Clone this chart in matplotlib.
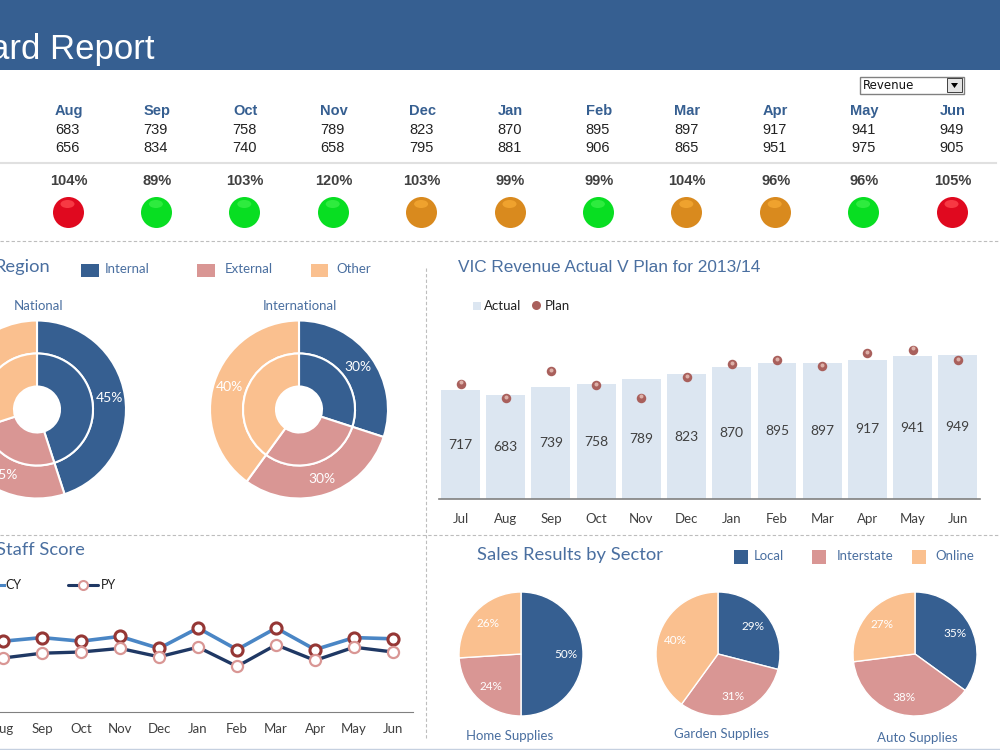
import matplotlib
matplotlib.use("Agg")
import matplotlib.pyplot as plt
from matplotlib.patches import Rectangle, Polygon, Ellipse

months = ["Aug", "Sep", "Oct", "Nov", "Dec", "Jan", "Feb", "Mar", "Apr", "May", "Jun"]
actual = [683, 739, 758, 789, 823, 870, 895, 897, 917, 941, 949]
plan = [656, 834, 740, 658, 795, 881, 906, 865, 951, 975, 905]
pct = ["104%", "89%", "103%", "120%", "103%", "99%", "99%", "104%", "96%", "96%", "105%"]
status = ["red", "green", "green", "green", "amber", "amber", "green", "amber", "amber", "green", "red"]

bar_months = ["Jul"] + months
bar_actual = [717] + actual
bar_plan = [751] + plan

national = [45, 25, 30]
international = [30, 30, 40]
home = [50, 24, 26]
garden = [29, 31, 40]
auto = [35, 38, 27]

cy = [5.9, 6.2, 5.9, 6.3, 5.3, 7.0, 5.2, 7.0, 5.2, 6.2, 6.1]
py = [4.5, 4.9, 5.0, 5.3, 4.6, 5.4, 3.8, 5.6, 4.3, 5.4, 5.0]

BLUE = "#365F91"
PINK = "#D99694"
ORANGE = "#FAC08F"
TITLE = "#4A6FA0"
GREY = "#404040"
DASH = "#BDBDBD"
pie_colors = [BLUE, PINK, ORANGE]
light_colors = {"red": "#E0091F", "green": "#08DE22", "amber": "#D98A1E"}
light_tops = {"red": "#FF4A50", "green": "#3CF048", "amber": "#F7AB34"}

plt.rcParams["font.family"] = ["Lato", "DejaVu Sans"]

fig = plt.figure(figsize=(10, 7.5), dpi=100)


def px_axes(left, top, right, bottom):
    # axes from pixel box, origin top left
    return fig.add_axes([left / 1000, 1 - bottom / 750, (right - left) / 1000, (bottom - top) / 750])


# page layer in pixels
page = fig.add_axes([0, 0, 1, 1])
page.set_xlim(0, 1000)
page.set_ylim(750, 0)
page.axis("off")

page.add_patch(Rectangle((0, 0), 1000, 70, color=BLUE, lw=0))
page.text(155, 59, "ard Report", color="white", fontsize=25, ha="right", va="baseline", family="Liberation Sans")

# dropdown
page.add_patch(Rectangle((859.5, 76.5), 104, 17, fc="white", ec="#808080", lw=1))
page.add_patch(Rectangle((947, 78), 15, 14, fc="#E4E4E4", ec="#404040", lw=0.7))
page.add_patch(Polygon([[951, 83], [958, 83], [954.5, 88]], color="black", lw=0))
page.text(863, 85.5, "Revenue", fontsize=8.5, va="center", family="DejaVu Sans", color="#111111")

# table
for i, m in enumerate(months):
    x = 68.5 + 88.4 * i
    page.text(x, 115, m, color=BLUE, fontsize=10.5, fontweight="bold", ha="center", va="baseline", family="Liberation Sans")
    page.text(x - 1, 133.5, str(actual[i]), color="#222222", fontsize=10.5, ha="center", va="baseline", family="Liberation Sans")
    page.text(x - 1, 151.5, str(plan[i]), color="#222222", fontsize=10.5, ha="center", va="baseline", family="Liberation Sans")
    page.text(x, 185, pct[i], color=GREY, fontsize=10.5, fontweight="bold", ha="center", va="baseline", family="Liberation Sans")
    page.scatter([x - 1], [212], s=(31 * 0.72) ** 2, color=light_colors[status[i]], lw=0, zorder=3)
    page.add_patch(Ellipse((x - 1, 204), 14, 8, color=light_tops[status[i]], lw=0, zorder=4, alpha=0.75))
page.plot([0, 996], [163, 163], color="#E0E0E0", lw=1.5)

# separators
page.plot([0, 1000], [240.5, 240.5], color=DASH, lw=0.8, ls=(0, (3, 2)))
page.plot([0, 1000], [534.5, 534.5], color=DASH, lw=0.8, ls=(0, (3, 2)))
page.plot([426, 426], [268, 740], color=DASH, lw=0.8, ls=(0, (3, 2)))
page.plot([0, 1000], [749, 749], color="#C5D0E0", lw=1)

# titles and legends
page.text(-6, 267, "Region", color=TITLE, fontsize=13.2, va="center")
page.text(458, 267, "VIC Revenue Actual V Plan for 2013/14", color=TITLE, fontsize=12.4, va="center", family="Liberation Sans")
page.text(-4, 550, "Staff Score", color=TITLE, fontsize=13.2, va="center")
page.text(477, 555, "Sales Results by Sector", color=TITLE, fontsize=13.2, va="center")

for x0, x1, tx, label, c in [(81, 99, 105, "Internal", BLUE), (197, 215, 225, "External", PINK), (311, 328, 336, "Other", ORANGE)]:
    page.add_patch(Rectangle((x0, 264), x1 - x0, 13, color=c, lw=0))
    page.text(tx, 269, label, color=TITLE, fontsize=9.5, va="center")
for x0, tx, label, c in [(734, 754, "Local", BLUE), (812, 837, "Interstate", PINK), (912, 935, "Online", ORANGE)]:
    page.add_patch(Rectangle((x0, 550), 14, 14, color=c, lw=0))
    page.text(tx, 556, label, color=TITLE, fontsize=9.5, va="center")

page.add_patch(Rectangle((473, 302), 8, 8, color="#DCE6F1", lw=0))
page.text(484, 306, "Actual", color="#222222", fontsize=9.5, va="center")
page.scatter([536], [305], s=(9 * 0.72) ** 2, color="#A9605C", lw=0)
page.text(545, 306, "Plan", color="#222222", fontsize=9.5, va="center")

page.plot([0, 4], [585, 585], color="#4A86C5", lw=2.2)
page.text(5, 585, "CY", color="#222222", fontsize=9, va="center")
page.plot([68, 98], [585, 585], color="#1F3864", lw=2.2, solid_capstyle="round")
page.scatter([83], [585], s=(9 * 0.72) ** 2, fc="white", ec=PINK, lw=1.5, zorder=3)
page.text(101, 585, "PY", color="#222222", fontsize=9, va="center")

for cx, y, label in [(39, 306.5, "National"), (300, 306.5, "International"), (510, 736.5, "Home Supplies"), (722, 734.5, "Garden Supplies"), (917, 737.5, "Auto Supplies")]:
    page.text(cx, y, label, color=TITLE, fontsize=9.5, ha="center", va="center")


def draw_donut(cx, values):
    r = 89
    ax = px_axes(cx - r, 409.5 - r, cx + r, 409.5 + r)
    ax.patch.set_alpha(0)
    wp = {"edgecolor": "white", "linewidth": 1.5}
    ax.pie(values, colors=pie_colors, radius=1, startangle=90, counterclock=False,
           wedgeprops=dict(width=33 / 89, **wp), autopct="%.0f%%", pctdistance=0.82,
           textprops={"color": "white", "fontsize": 10})
    ax.pie(values, colors=pie_colors, radius=56 / 89, startangle=90, counterclock=False,
           wedgeprops=dict(width=33 / 89, **wp))
    ax.set_xlim(-1, 1)
    ax.set_ylim(-1, 1)


def draw_pie(cx, values):
    r = 62
    ax = px_axes(cx - r, 654 - r, cx + r, 654 + r)
    ax.patch.set_alpha(0)
    ax.pie(values, colors=pie_colors, radius=1, startangle=90, counterclock=False,
           wedgeprops={"edgecolor": "white", "linewidth": 1}, autopct="%.0f%%", pctdistance=0.72,
           textprops={"color": "white", "fontsize": 8.5})
    ax.set_xlim(-1, 1)
    ax.set_ylim(-1, 1)


draw_donut(37, national)
draw_donut(299, international)
draw_pie(521, home)
draw_pie(718, garden)
draw_pie(915, auto)

# actual v plan bars
bar_ax = px_axes(438.5, 300, 979.5, 499)
bar_ax.patch.set_alpha(0)
pos = list(range(len(bar_months)))
bars = bar_ax.bar(pos, bar_actual, width=0.86, color="#DCE6F1")
bar_ax.bar_label(bars, label_type="center", color=GREY, fontsize=10)
bar_ax.set_xlim(-0.487, 11.48)
bar_ax.set_ylim(0, 1312)
bar_ax.set_yticks([])
bar_ax.set_xticks(pos, bar_months, color=GREY, fontsize=9.5)
bar_ax.tick_params(axis="x", length=0, pad=10)
for s in ["top", "left", "right"]:
    bar_ax.spines[s].set_visible(False)
bar_ax.spines["bottom"].set_color("#808080")
bar_ax.spines["bottom"].set_linewidth(1.2)

# plan sits on its own axis, a little above the bars' scale
plan_ax = bar_ax.twinx()
plan_ax.set_ylim(-10, 1302)
plan_ax.axis("off")
plan_ax.scatter(pos, bar_plan, s=(9.5 * 0.72) ** 2, color="#A9605C", lw=0, zorder=3)
plan_ax.scatter(pos, [p + 8 for p in bar_plan], s=(4 * 0.72) ** 2, color="#DDB0A8", lw=0, zorder=4)

# staff score lines
line_ax = px_axes(-16, 592, 413, 712)
line_ax.patch.set_alpha(0)
pos = list(range(len(months)))
line_ax.plot(pos, cy, color="#4A86C5", lw=2.6, marker="o", ms=8, mfc="white", mec="#953735", mew=2.2, clip_on=False)
line_ax.plot(pos, py, color="#1F3864", lw=2.4, marker="o", ms=8, mfc="white", mec=PINK, mew=1.6, clip_on=False)
line_ax.set_xlim(-0.487, 10.51)
line_ax.set_ylim(0, 10)
line_ax.set_yticks([])
line_ax.set_xticks(pos, months, color=GREY, fontsize=9.5)
line_ax.tick_params(axis="x", length=0, pad=8)
for s in ["top", "left", "right"]:
    line_ax.spines[s].set_visible(False)
line_ax.spines["bottom"].set_color("#808080")

fig.savefig("out.png", dpi=100)
